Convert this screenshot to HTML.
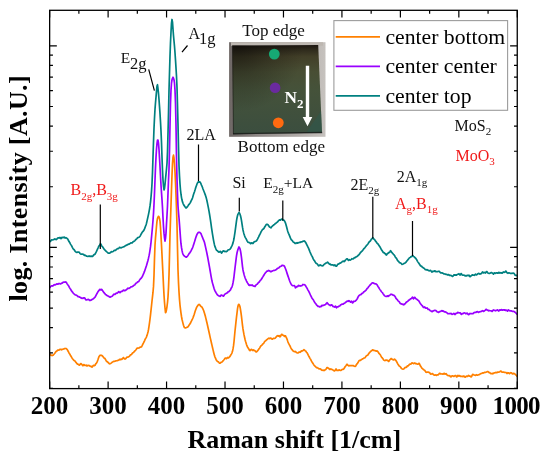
<!DOCTYPE html>
<html><head><meta charset="utf-8"><title>Raman spectra</title>
<style>
html,body{margin:0;padding:0;background:#fff;}
body{width:550px;height:461px;overflow:hidden;font-family:"Liberation Serif",serif;}
svg{display:block;font-family:"Liberation Serif",serif;}
.tl{font-weight:bold;font-size:25px;fill:#000;}
.ax{font-weight:bold;font-size:26px;fill:#000;}
.lb{font-size:16px;fill:#111;}
.rd{fill:#f01a1a;}
.lg{font-size:21.7px;fill:#000;}
</style></head><body>
<svg width="550" height="461" viewBox="0 0 550 461">
<defs>
<linearGradient id="ph" x1="0" y1="0" x2="0" y2="1">
<stop offset="0" stop-color="#1c1611"/><stop offset="0.05" stop-color="#2e2a1c"/><stop offset="0.13" stop-color="#423f28"/><stop offset="0.3" stop-color="#484e34"/><stop offset="0.5" stop-color="#45523a"/><stop offset="1" stop-color="#3b4e3f"/>
</linearGradient>
<radialGradient id="ph2" cx="0.05" cy="0" r="0.75">
<stop offset="0" stop-color="#0a0806" stop-opacity="0.6"/><stop offset="0.5" stop-color="#0a0806" stop-opacity="0.25"/><stop offset="1" stop-color="#0a0806" stop-opacity="0"/>
</radialGradient>
<linearGradient id="bd" x1="0" y1="0" x2="1" y2="0">
<stop offset="0" stop-color="#6e6765"/><stop offset="0.3" stop-color="#8e8886"/><stop offset="1" stop-color="#c6c2be"/>
</linearGradient>
<clipPath id="cp"><rect x="49.65" y="10.3" width="467.65" height="378.3"/></clipPath>
</defs>
<rect width="550" height="461" fill="#fff"/>
<!-- curves -->
<g fill="none" stroke-width="1.7" stroke-linejoin="round" stroke-linecap="round" clip-path="url(#cp)">
<polyline stroke="#ff8000" points="50.0,354.08 50.5,354.95 51.0,355.46 51.5,355.46 52.0,355.28 52.5,355.53 53.0,355.33 53.5,354.76 54.0,354.20 54.5,353.58 55.0,352.90 55.5,352.17 56.0,351.61 56.5,351.32 57.0,350.83 57.5,350.35 58.0,350.09 58.5,350.03 59.0,350.08 59.5,349.64 60.0,349.34 60.5,349.25 61.0,349.59 61.5,349.78 62.0,349.31 62.5,349.29 63.0,349.24 63.5,348.95 64.0,348.80 64.5,348.69 65.0,348.47 65.5,348.48 66.0,348.50 66.5,348.91 67.0,349.34 67.5,350.02 68.0,351.00 68.5,351.98 69.0,352.93 69.5,353.66 70.0,354.48 70.5,355.51 71.0,356.27 71.5,357.06 72.0,357.95 72.5,358.63 73.0,359.29 73.5,359.83 74.0,360.39 74.5,360.81 75.0,361.07 75.5,361.70 76.0,362.37 76.5,362.99 77.0,363.71 77.5,364.21 78.0,364.15 78.5,364.42 79.0,365.14 79.5,365.16 80.0,364.53 80.5,363.70 81.0,363.53 81.5,364.04 82.0,364.55 82.5,365.42 83.0,365.73 83.5,364.77 84.0,364.56 84.5,365.14 85.0,365.43 85.5,365.49 86.0,365.11 86.5,365.29 87.0,366.06 87.5,365.84 88.0,365.24 88.5,365.42 89.0,365.55 89.5,365.66 90.0,366.23 90.5,366.46 91.0,366.24 91.5,366.54 92.0,367.15 92.5,366.63 93.0,365.79 93.5,365.27 94.0,365.34 94.5,365.68 95.0,365.32 95.5,364.31 96.0,363.59 96.5,363.02 97.0,362.08 97.5,360.88 98.0,359.51 98.5,357.98 99.0,356.68 99.5,355.86 100.0,355.41 100.5,355.21 101.0,355.35 101.5,355.23 102.0,355.42 102.5,356.17 103.0,356.65 103.5,357.30 104.0,357.94 104.5,358.16 105.0,358.69 105.5,359.54 106.0,360.42 106.5,361.23 107.0,361.62 107.5,361.86 108.0,362.37 108.5,362.97 109.0,363.48 109.5,363.79 110.0,363.76 110.5,363.46 111.0,363.19 111.5,362.80 112.0,362.38 112.5,362.01 113.0,361.82 113.5,361.53 114.0,361.24 114.5,361.29 115.0,361.25 115.5,360.94 116.0,360.75 116.5,360.77 117.0,360.78 117.5,360.53 118.0,360.41 118.5,360.28 119.0,359.79 119.5,359.34 120.0,359.38 120.5,359.70 121.0,359.36 121.5,359.14 122.0,359.29 122.5,358.71 123.0,357.90 123.5,357.61 124.0,358.32 124.5,358.99 125.0,358.89 125.5,358.82 126.0,358.40 126.5,357.52 127.0,357.06 127.5,357.20 128.0,357.19 128.5,356.80 129.0,356.50 129.5,356.17 130.0,355.51 130.5,354.90 131.0,354.71 131.5,354.43 132.0,353.77 132.5,353.12 133.0,352.70 133.5,352.35 134.0,351.94 134.5,351.34 135.0,350.73 135.5,350.26 136.0,349.68 136.5,348.95 137.0,348.33 137.5,348.05 138.0,348.02 138.5,348.03 139.0,347.90 139.5,347.67 140.0,347.29 140.5,347.04 141.0,347.11 141.5,346.75 142.0,345.87 142.5,344.85 143.0,343.91 143.5,342.93 144.0,341.88 144.5,340.84 145.0,339.69 145.5,338.67 146.0,337.84 146.5,336.77 147.0,335.39 147.5,333.82 148.0,332.00 148.5,329.50 149.0,326.35 149.5,322.86 150.0,319.06 150.5,314.92 151.0,310.42 151.5,305.74 152.0,300.97 152.5,296.65 153.0,292.22 153.5,286.41 154.0,275.41 154.5,258.51 155.0,245.03 155.5,237.89 156.0,232.25 156.5,226.21 157.0,221.05 157.5,218.42 158.0,217.13 158.5,216.31 159.0,216.88 159.5,218.45 160.0,221.08 160.5,227.33 161.0,236.00 161.5,245.16 162.0,255.02 162.5,264.94 163.0,274.98 163.5,285.50 164.0,294.97 164.5,302.23 165.0,307.98 165.5,312.69 166.0,312.07 166.5,309.65 167.0,306.51 167.5,302.48 168.0,297.00 168.5,287.86 169.0,274.99 169.5,255.73 170.0,234.99 170.5,219.44 171.0,205.00 171.5,189.24 172.0,175.02 172.5,163.56 173.0,157.12 173.5,155.11 174.0,157.98 174.5,163.68 175.0,171.97 175.5,182.40 176.0,194.99 176.5,208.75 177.0,225.00 177.5,248.31 178.0,270.00 178.5,282.63 179.0,291.95 179.5,299.37 180.0,305.05 180.5,309.42 181.0,313.21 181.5,316.50 182.0,319.23 182.5,321.36 183.0,323.34 183.5,325.22 184.0,326.74 184.5,327.64 185.0,327.79 185.5,327.76 186.0,327.81 186.5,327.57 187.0,327.25 187.5,327.14 188.0,326.75 188.5,326.00 189.0,325.19 189.5,324.50 190.0,323.90 190.5,323.02 191.0,321.99 191.5,320.97 192.0,319.86 192.5,318.86 193.0,317.76 193.5,316.39 194.0,314.98 194.5,313.46 195.0,311.84 195.5,310.34 196.0,308.94 196.5,307.59 197.0,306.68 197.5,305.94 198.0,305.24 198.5,304.77 199.0,304.46 199.5,304.48 200.0,305.18 200.5,305.90 201.0,306.46 201.5,306.76 202.0,307.13 202.5,308.06 203.0,309.17 203.5,310.25 204.0,311.64 204.5,313.30 205.0,315.03 205.5,316.85 206.0,318.86 206.5,320.97 207.0,323.07 207.5,325.21 208.0,327.47 208.5,329.74 209.0,332.00 209.5,334.28 210.0,336.56 210.5,338.82 211.0,341.00 211.5,343.19 212.0,345.37 212.5,347.53 213.0,349.66 213.5,351.72 214.0,353.76 214.5,355.63 215.0,357.05 215.5,358.20 216.0,359.41 216.5,360.35 217.0,360.93 217.5,361.50 218.0,361.78 218.5,361.93 219.0,362.56 219.5,363.08 220.0,363.16 220.5,363.02 221.0,362.31 221.5,362.23 222.0,362.03 222.5,361.43 223.0,360.84 223.5,360.29 224.0,359.70 224.5,359.04 225.0,358.28 225.5,358.07 226.0,358.41 226.5,358.59 227.0,358.11 227.5,357.49 228.0,357.71 228.5,357.93 229.0,357.41 229.5,356.97 230.0,356.38 230.5,355.52 231.0,354.68 231.5,353.80 232.0,352.86 232.5,351.32 233.0,348.91 233.5,345.96 234.0,341.75 234.5,336.26 235.0,330.98 235.5,326.29 236.0,321.61 236.5,317.14 237.0,313.05 237.5,308.95 238.0,306.00 238.5,304.63 239.0,304.38 239.5,305.34 240.0,306.73 240.5,309.53 241.0,312.94 241.5,316.66 242.0,321.00 242.5,325.33 243.0,328.99 243.5,331.96 244.0,334.63 244.5,337.00 245.0,339.23 245.5,341.20 246.0,342.84 246.5,344.43 247.0,345.90 247.5,346.95 248.0,347.70 248.5,348.48 249.0,349.39 249.5,350.26 250.0,350.68 250.5,349.95 251.0,349.57 251.5,349.36 252.0,349.67 252.5,350.40 253.0,350.46 253.5,350.00 254.0,350.40 254.5,350.42 255.0,350.69 255.5,351.39 256.0,351.86 256.5,351.89 257.0,351.35 257.5,350.86 258.0,350.30 258.5,349.48 259.0,348.84 259.5,348.25 260.0,347.40 260.5,346.42 261.0,345.72 261.5,345.46 262.0,345.04 262.5,344.30 263.0,343.81 263.5,343.41 264.0,342.67 264.5,341.82 265.0,341.21 265.5,340.88 266.0,340.56 266.5,339.98 267.0,339.52 267.5,339.26 268.0,338.74 268.5,338.22 269.0,338.35 269.5,338.58 270.0,338.21 270.5,338.02 271.0,338.26 271.5,338.69 272.0,339.14 272.5,339.08 273.0,338.65 273.5,338.34 274.0,338.40 274.5,338.39 275.0,338.23 275.5,337.84 276.0,337.17 276.5,336.60 277.0,336.03 277.5,335.70 278.0,336.01 278.5,336.18 279.0,335.65 279.5,335.72 280.0,336.82 280.5,336.49 281.0,335.21 281.5,334.44 282.0,334.46 282.5,334.98 283.0,335.23 283.5,335.41 284.0,335.90 284.5,336.34 285.0,335.70 285.5,335.85 286.0,336.92 286.5,337.93 287.0,339.04 287.5,340.59 288.0,342.03 288.5,343.15 289.0,344.16 289.5,345.07 290.0,345.98 290.5,347.03 291.0,348.11 291.5,349.04 292.0,349.66 292.5,350.18 293.0,350.85 293.5,351.30 294.0,351.53 294.5,351.77 295.0,351.58 295.5,351.47 296.0,352.08 296.5,352.59 297.0,352.83 297.5,352.98 298.0,352.94 298.5,352.59 299.0,352.14 299.5,352.07 300.0,352.35 300.5,352.02 301.0,351.18 301.5,350.91 302.0,351.09 302.5,350.87 303.0,350.50 303.5,350.22 304.0,349.72 304.5,350.09 305.0,350.63 305.5,350.93 306.0,351.44 306.5,352.20 307.0,352.85 307.5,353.52 308.0,354.51 308.5,355.55 309.0,356.50 309.5,357.47 310.0,358.35 310.5,359.12 311.0,360.07 311.5,361.15 312.0,362.01 312.5,362.68 313.0,363.46 313.5,364.37 314.0,365.08 314.5,365.59 315.0,366.10 315.5,366.54 316.0,367.10 316.5,367.55 317.0,367.64 317.5,367.87 318.0,368.06 318.5,368.45 319.0,368.91 319.5,368.86 320.0,368.79 320.5,369.00 321.0,369.43 321.5,370.10 322.0,370.38 322.5,370.22 323.0,370.04 323.5,370.19 324.0,370.65 324.5,370.21 325.0,369.83 325.5,369.74 326.0,369.13 326.5,368.34 327.0,367.48 327.5,367.56 328.0,368.06 328.5,368.40 329.0,368.59 329.5,369.24 330.0,369.51 330.5,368.96 331.0,368.99 331.5,369.45 332.0,369.50 332.5,369.61 333.0,370.03 333.5,370.49 334.0,370.77 334.5,370.89 335.0,370.62 335.5,369.56 336.0,368.98 336.5,369.88 337.0,370.51 337.5,370.26 338.0,370.29 338.5,370.34 339.0,369.86 339.5,370.04 340.0,370.40 340.5,370.44 341.0,370.37 341.5,369.98 342.0,369.54 342.5,369.33 343.0,369.33 343.5,369.19 344.0,368.68 344.5,367.78 345.0,366.84 345.5,366.25 346.0,365.70 346.5,364.82 347.0,364.25 347.5,364.80 348.0,365.28 348.5,365.68 349.0,365.89 349.5,365.53 350.0,365.52 350.5,365.55 351.0,365.64 351.5,365.69 352.0,365.61 352.5,365.49 353.0,365.48 353.5,365.82 354.0,366.12 354.5,366.27 355.0,366.40 355.5,366.16 356.0,365.46 356.5,364.51 357.0,363.89 357.5,363.39 358.0,362.54 358.5,361.64 359.0,360.77 359.5,360.34 360.0,360.48 360.5,360.39 361.0,359.92 361.5,359.54 362.0,359.24 362.5,358.86 363.0,358.69 363.5,358.38 364.0,358.03 364.5,357.97 365.0,357.69 365.5,357.06 366.0,356.27 366.5,355.73 367.0,355.49 367.5,355.26 368.0,354.80 368.5,354.01 369.0,353.24 369.5,352.61 370.0,352.03 370.5,351.60 371.0,351.18 371.5,350.77 372.0,350.44 372.5,349.90 373.0,349.89 373.5,350.37 374.0,350.37 374.5,350.53 375.0,350.57 375.5,350.70 376.0,351.11 376.5,351.05 377.0,350.86 377.5,351.26 378.0,351.87 378.5,352.59 379.0,353.46 379.5,353.98 380.0,354.33 380.5,355.17 381.0,356.16 381.5,356.98 382.0,357.70 382.5,358.21 383.0,358.84 383.5,359.75 384.0,360.30 384.5,360.47 385.0,360.56 385.5,360.36 386.0,359.99 386.5,360.05 387.0,360.42 387.5,360.30 388.0,360.61 388.5,361.44 389.0,361.17 389.5,360.22 390.0,359.62 390.5,359.24 391.0,358.70 391.5,358.60 392.0,359.27 392.5,359.49 393.0,359.67 393.5,359.96 394.0,359.64 394.5,359.20 395.0,359.56 395.5,360.03 396.0,360.64 396.5,361.49 397.0,362.42 397.5,363.43 398.0,364.27 398.5,364.99 399.0,365.78 399.5,366.26 400.0,366.48 400.5,367.00 401.0,367.85 401.5,368.48 402.0,368.79 402.5,369.02 403.0,369.23 403.5,369.03 404.0,368.68 404.5,368.14 405.0,367.61 405.5,367.41 406.0,367.49 406.5,367.27 407.0,366.46 407.5,365.95 408.0,365.93 408.5,365.58 409.0,364.89 409.5,364.38 410.0,364.11 410.5,364.15 411.0,364.06 411.5,363.37 412.0,362.82 412.5,362.97 413.0,363.30 413.5,363.68 414.0,363.55 414.5,362.97 415.0,363.05 415.5,363.61 416.0,363.67 416.5,363.71 417.0,363.99 417.5,364.19 418.0,364.27 418.5,363.72 419.0,363.25 419.5,363.94 420.0,365.04 420.5,366.14 421.0,366.79 421.5,367.45 422.0,368.28 422.5,368.73 423.0,369.02 423.5,369.53 424.0,369.93 424.5,370.18 425.0,370.72 425.5,371.52 426.0,372.21 426.5,372.33 427.0,372.14 427.5,372.07 428.0,372.01 428.5,372.16 429.0,372.42 429.5,372.58 430.0,373.34 430.5,374.08 431.0,374.06 431.5,373.98 432.0,373.71 432.5,373.65 433.0,374.23 433.5,374.67 434.0,374.90 434.5,375.10 435.0,375.06 435.5,374.91 436.0,375.24 436.5,375.34 437.0,374.80 437.5,374.80 438.0,374.94 438.5,374.61 439.0,373.91 439.5,373.25 440.0,373.36 440.5,373.98 441.0,373.99 441.5,373.95 442.0,373.85 442.5,374.05 443.0,374.14 443.5,373.91 444.0,373.40 444.5,373.43 445.0,374.20 445.5,373.86 446.0,373.69 446.5,374.19 447.0,374.87 447.5,375.39 448.0,375.51 448.5,375.61 449.0,375.77 449.5,375.68 450.0,376.02 450.5,376.78 451.0,376.86 451.5,376.37 452.0,375.95 452.5,375.83 453.0,376.07 453.5,376.42 454.0,376.48 454.5,375.92 455.0,375.62 455.5,375.52 456.0,375.82 456.5,376.86 457.0,377.00 457.5,375.96 458.0,375.37 458.5,375.87 459.0,376.12 459.5,375.63 460.0,375.79 460.5,376.37 461.0,376.37 461.5,376.45 462.0,376.34 462.5,376.39 463.0,376.60 463.5,376.12 464.0,376.05 464.5,376.60 465.0,377.13 465.5,377.11 466.0,376.37 466.5,376.09 467.0,376.46 467.5,376.41 468.0,375.88 468.5,375.45 469.0,375.79 469.5,376.17 470.0,376.10 470.5,376.40 471.0,376.89 471.5,376.67 472.0,375.60 472.5,374.51 473.0,374.33 473.5,374.72 474.0,375.01 474.5,375.03 475.0,375.01 475.5,375.45 476.0,375.24 476.5,374.71 477.0,374.95 477.5,375.18 478.0,374.97 478.5,374.74 479.0,374.69 479.5,374.48 480.0,374.11 480.5,373.74 481.0,373.54 481.5,373.51 482.0,373.20 482.5,372.91 483.0,372.90 483.5,373.05 484.0,372.75 484.5,372.28 485.0,372.26 485.5,372.28 486.0,372.24 486.5,372.05 487.0,371.78 487.5,371.53 488.0,371.58 488.5,372.26 489.0,372.59 489.5,372.47 490.0,372.90 490.5,373.48 491.0,373.65 491.5,373.74 492.0,373.43 492.5,373.38 493.0,373.80 493.5,373.24 494.0,372.90 494.5,373.02 495.0,372.76 495.5,372.51 496.0,372.40 496.5,372.67 497.0,372.66 497.5,372.16 498.0,372.20 498.5,372.24 499.0,372.01 499.5,371.91 500.0,371.62 500.5,371.14 501.0,371.10 501.5,371.62 502.0,372.09 502.5,372.17 503.0,372.16 503.5,372.09 504.0,372.26 504.5,372.51 505.0,372.42 505.5,372.50 506.0,372.54 506.5,372.86 507.0,373.51 507.5,373.22 508.0,372.70 508.5,372.86 509.0,373.37 509.5,373.65 510.0,373.14 510.5,372.79 511.0,372.70 511.5,372.84 512.0,373.50 512.5,373.94 513.0,373.83 513.5,373.39 514.0,373.33 514.5,373.69 515.0,374.19 515.5,374.66 516.0,374.97 516.5,375.55 517.0,376.27"/>
<polyline stroke="#9900ff" points="50.0,287.34 50.5,286.75 51.0,286.24 51.5,285.74 52.0,285.80 52.5,286.06 53.0,285.79 53.5,285.30 54.0,284.79 54.5,284.71 55.0,284.97 55.5,284.79 56.0,284.39 56.5,284.06 57.0,283.90 57.5,284.25 58.0,284.19 58.5,283.56 59.0,283.55 59.5,283.63 60.0,283.56 60.5,283.99 61.0,283.82 61.5,283.18 62.0,283.24 62.5,283.03 63.0,282.34 63.5,282.20 64.0,282.13 64.5,282.06 65.0,282.15 65.5,281.91 66.0,282.02 66.5,282.66 67.0,283.60 67.5,284.44 68.0,285.03 68.5,285.68 69.0,286.59 69.5,287.61 70.0,288.43 70.5,289.12 71.0,289.99 71.5,290.87 72.0,291.48 72.5,292.13 73.0,292.79 73.5,293.40 74.0,293.85 74.5,294.17 75.0,294.79 75.5,295.00 76.0,295.04 76.5,295.33 77.0,295.56 77.5,296.18 78.0,296.61 78.5,296.52 79.0,296.80 79.5,297.19 80.0,297.21 80.5,297.42 81.0,298.00 81.5,298.29 82.0,298.09 82.5,298.28 83.0,298.30 83.5,297.82 84.0,297.85 84.5,297.83 85.0,298.34 85.5,299.49 86.0,299.90 86.5,299.84 87.0,299.70 87.5,299.60 88.0,299.47 88.5,299.43 89.0,299.71 89.5,300.24 90.0,300.58 90.5,300.33 91.0,300.07 91.5,299.91 92.0,299.50 92.5,299.18 93.0,299.04 93.5,298.63 94.0,298.09 94.5,297.66 95.0,297.18 95.5,296.38 96.0,295.36 96.5,294.38 97.0,293.50 97.5,292.59 98.0,291.65 98.5,290.94 99.0,290.51 99.5,289.81 100.0,289.27 100.5,289.79 101.0,290.08 101.5,289.36 102.0,289.64 102.5,290.40 103.0,291.28 103.5,292.11 104.0,292.78 104.5,293.18 105.0,293.84 105.5,294.57 106.0,294.80 106.5,295.10 107.0,295.54 107.5,295.80 108.0,296.06 108.5,296.37 109.0,296.55 109.5,296.89 110.0,297.23 110.5,296.97 111.0,296.65 111.5,296.47 112.0,296.20 112.5,295.82 113.0,295.28 113.5,294.50 114.0,294.17 114.5,294.26 115.0,294.35 115.5,293.94 116.0,293.21 116.5,293.11 117.0,293.28 117.5,293.04 118.0,292.51 118.5,291.77 119.0,291.59 119.5,292.38 120.0,292.66 120.5,292.04 121.0,291.54 121.5,291.42 122.0,291.47 122.5,291.13 123.0,290.46 123.5,290.09 124.0,290.30 124.5,290.77 125.0,290.65 125.5,290.18 126.0,290.02 126.5,289.72 127.0,289.22 127.5,288.69 128.0,288.20 128.5,288.33 129.0,288.49 129.5,287.95 130.0,287.70 130.5,287.50 131.0,286.91 131.5,286.74 132.0,286.59 132.5,286.40 133.0,286.18 133.5,285.65 134.0,285.25 134.5,285.03 135.0,284.54 135.5,283.86 136.0,283.27 136.5,282.91 137.0,282.62 137.5,282.07 138.0,281.79 138.5,281.65 139.0,280.99 139.5,280.12 140.0,279.38 140.5,278.87 141.0,278.41 141.5,277.68 142.0,276.98 142.5,276.21 143.0,275.02 143.5,273.82 144.0,272.69 144.5,271.44 145.0,270.03 145.5,268.55 146.0,267.07 146.5,265.50 147.0,263.72 147.5,261.95 148.0,260.21 148.5,258.19 149.0,255.93 149.5,253.33 150.0,250.23 150.5,246.71 151.0,242.52 151.5,237.45 152.0,231.99 152.5,226.48 153.0,220.51 153.5,213.41 154.0,204.18 154.5,192.89 155.0,179.99 155.5,167.37 156.0,157.26 156.5,149.30 157.0,143.37 157.5,140.06 158.0,140.10 158.5,143.24 159.0,149.34 159.5,157.60 160.0,166.56 160.5,176.00 161.0,184.97 161.5,192.61 162.0,199.76 162.5,207.77 163.0,217.79 163.5,226.45 164.0,233.16 164.5,237.86 165.0,241.21 165.5,238.45 166.0,233.27 166.5,223.78 167.0,215.31 167.5,206.01 168.0,193.12 168.5,180.29 169.0,168.85 169.5,150.12 170.0,125.39 170.5,103.12 171.0,90.16 171.5,83.05 172.0,79.79 172.5,78.32 173.0,77.23 173.5,78.16 174.0,79.77 174.5,83.10 175.0,90.20 175.5,103.03 176.0,124.81 176.5,157.36 177.0,178.68 177.5,194.09 178.0,205.96 178.5,212.46 179.0,217.98 179.5,224.42 180.0,230.96 180.5,238.14 181.0,243.97 181.5,247.49 182.0,250.42 182.5,252.66 183.0,254.12 183.5,255.03 184.0,255.71 184.5,256.17 185.0,256.40 185.5,256.72 186.0,257.18 186.5,257.07 187.0,256.68 187.5,256.07 188.0,255.38 188.5,254.59 189.0,253.76 189.5,253.14 190.0,252.57 190.5,251.84 191.0,250.93 191.5,249.97 192.0,248.98 192.5,247.86 193.0,246.48 193.5,244.92 194.0,243.40 194.5,241.85 195.0,240.16 195.5,238.45 196.0,236.96 196.5,235.59 197.0,234.35 197.5,233.51 198.0,232.84 198.5,232.26 199.0,232.27 199.5,232.23 200.0,232.64 200.5,233.05 201.0,233.68 201.5,234.94 202.0,236.21 202.5,237.41 203.0,238.70 203.5,239.92 204.0,241.07 204.5,242.55 205.0,244.58 205.5,246.85 206.0,249.10 206.5,251.40 207.0,253.79 207.5,256.29 208.0,258.89 208.5,261.65 209.0,264.46 209.5,267.22 210.0,270.02 210.5,272.92 211.0,275.84 211.5,278.59 212.0,281.05 212.5,283.12 213.0,284.84 213.5,286.55 214.0,288.17 214.5,289.63 215.0,290.87 215.5,291.78 216.0,292.65 216.5,293.47 217.0,294.18 217.5,294.90 218.0,295.37 218.5,295.66 219.0,295.85 219.5,295.98 220.0,296.38 220.5,296.23 221.0,295.17 221.5,295.13 222.0,295.34 222.5,295.63 223.0,295.98 223.5,296.07 224.0,295.51 224.5,294.49 225.0,293.96 225.5,293.83 226.0,293.51 226.5,293.12 227.0,292.97 227.5,292.67 228.0,291.89 228.5,291.65 229.0,291.62 229.5,290.85 230.0,290.32 230.5,289.80 231.0,288.73 231.5,287.72 232.0,286.80 232.5,285.27 233.0,282.88 233.5,280.05 234.0,276.51 234.5,272.20 235.0,267.98 235.5,263.93 236.0,259.79 236.5,255.97 237.0,253.01 237.5,250.88 238.0,249.28 238.5,248.19 239.0,246.92 239.5,247.71 240.0,248.90 240.5,250.98 241.0,253.96 241.5,257.68 242.0,262.18 242.5,266.56 243.0,269.97 243.5,272.32 244.0,274.24 244.5,275.97 245.0,277.56 245.5,278.85 246.0,279.93 246.5,281.02 247.0,282.03 247.5,282.87 248.0,283.65 248.5,284.52 249.0,285.20 249.5,285.40 250.0,284.95 250.5,285.28 251.0,285.48 251.5,285.19 252.0,284.90 252.5,285.14 253.0,285.89 253.5,286.06 254.0,285.99 254.5,286.32 255.0,286.55 255.5,285.86 256.0,285.08 256.5,284.47 257.0,284.29 257.5,283.84 258.0,283.04 258.5,282.59 259.0,282.28 259.5,281.64 260.0,280.82 260.5,280.22 261.0,279.78 261.5,279.11 262.0,278.22 262.5,277.41 263.0,276.63 263.5,275.80 264.0,274.96 264.5,274.12 265.0,273.36 265.5,272.79 266.0,272.21 266.5,271.52 267.0,271.15 267.5,271.09 268.0,270.91 268.5,270.46 269.0,270.64 269.5,270.97 270.0,271.00 270.5,271.66 271.0,271.73 271.5,271.35 272.0,271.17 272.5,270.85 273.0,270.74 273.5,270.57 274.0,270.39 274.5,270.43 275.0,270.29 275.5,270.08 276.0,269.76 276.5,269.27 277.0,268.78 277.5,268.41 278.0,268.12 278.5,267.95 279.0,267.66 279.5,267.01 280.0,266.54 280.5,266.43 281.0,266.29 281.5,265.86 282.0,265.41 282.5,265.26 283.0,265.55 283.5,265.65 284.0,265.63 284.5,266.31 285.0,267.53 285.5,268.76 286.0,270.01 286.5,271.57 287.0,273.12 287.5,274.62 288.0,276.12 288.5,277.57 289.0,279.01 289.5,280.46 290.0,281.77 290.5,282.88 291.0,283.90 291.5,284.75 292.0,285.29 292.5,285.63 293.0,285.76 293.5,285.73 294.0,285.65 294.5,285.68 295.0,286.59 295.5,287.83 296.0,287.44 296.5,286.63 297.0,286.63 297.5,286.70 298.0,285.87 298.5,285.48 299.0,285.94 299.5,285.79 300.0,285.70 300.5,286.04 301.0,285.87 301.5,285.77 302.0,285.65 302.5,284.90 303.0,284.47 303.5,284.64 304.0,284.75 304.5,284.70 305.0,284.95 305.5,285.66 306.0,286.54 306.5,287.33 307.0,288.17 307.5,289.10 308.0,290.06 308.5,290.93 309.0,291.87 309.5,292.91 310.0,294.01 310.5,295.16 311.0,296.11 311.5,297.11 312.0,298.17 312.5,298.84 313.0,299.37 313.5,300.15 314.0,301.14 314.5,302.02 315.0,302.77 315.5,303.41 316.0,304.03 316.5,304.83 317.0,305.34 317.5,305.76 318.0,306.39 318.5,306.29 319.0,306.46 319.5,306.98 320.0,306.70 320.5,306.41 321.0,306.66 321.5,306.20 322.0,305.27 322.5,305.59 323.0,305.61 323.5,305.27 324.0,305.14 324.5,305.00 325.0,304.70 325.5,304.43 326.0,304.04 326.5,303.25 327.0,302.71 327.5,303.13 328.0,303.89 328.5,304.51 329.0,304.71 329.5,304.92 330.0,305.42 330.5,305.53 331.0,305.10 331.5,304.87 332.0,305.00 332.5,305.58 333.0,306.49 333.5,306.63 334.0,306.52 334.5,307.01 335.0,306.56 335.5,306.14 336.0,307.17 336.5,307.78 337.0,307.09 337.5,306.83 338.0,306.90 338.5,306.51 339.0,306.18 339.5,306.03 340.0,305.68 340.5,305.12 341.0,304.85 341.5,304.59 342.0,304.11 342.5,304.11 343.0,304.18 343.5,303.83 344.0,303.41 344.5,303.21 345.0,302.89 345.5,302.33 346.0,302.13 346.5,301.83 347.0,301.17 347.5,301.00 348.0,301.33 348.5,301.17 349.0,300.66 349.5,300.93 350.0,301.52 350.5,302.12 351.0,301.96 351.5,301.22 352.0,301.63 352.5,302.84 353.0,302.69 353.5,301.66 354.0,301.22 354.5,301.37 355.0,301.27 355.5,300.85 356.0,300.29 356.5,299.78 357.0,299.18 357.5,298.29 358.0,297.21 358.5,296.22 359.0,295.68 359.5,295.28 360.0,294.76 360.5,294.73 361.0,294.59 361.5,293.84 362.0,293.40 362.5,293.30 363.0,292.87 363.5,292.19 364.0,291.77 364.5,291.43 365.0,291.02 365.5,290.61 366.0,290.16 366.5,289.45 367.0,288.66 367.5,288.25 368.0,287.71 368.5,286.90 369.0,286.28 369.5,285.76 370.0,285.14 370.5,284.58 371.0,284.14 371.5,283.55 372.0,283.01 372.5,282.82 373.0,282.85 373.5,283.14 374.0,283.45 374.5,283.54 375.0,283.79 375.5,283.82 376.0,283.85 376.5,284.20 377.0,284.75 377.5,285.62 378.0,286.47 378.5,287.14 379.0,287.98 379.5,288.87 380.0,289.62 380.5,290.33 381.0,291.05 381.5,291.72 382.0,292.25 382.5,292.75 383.0,293.59 383.5,294.37 384.0,295.00 384.5,295.65 385.0,295.96 385.5,296.25 386.0,296.45 386.5,296.47 387.0,296.10 387.5,295.91 388.0,296.48 388.5,296.29 389.0,295.60 389.5,295.45 390.0,295.12 390.5,294.44 391.0,294.22 391.5,294.33 392.0,294.39 392.5,294.64 393.0,295.10 393.5,295.15 394.0,295.38 394.5,295.97 395.0,296.41 395.5,297.27 396.0,298.32 396.5,298.85 397.0,299.33 397.5,299.97 398.0,300.73 398.5,301.27 399.0,301.49 399.5,302.16 400.0,303.10 400.5,303.62 401.0,303.71 401.5,303.82 402.0,304.21 402.5,304.33 403.0,304.18 403.5,304.78 404.0,304.76 404.5,304.15 405.0,303.80 405.5,303.29 406.0,302.50 406.5,302.09 407.0,301.85 407.5,301.50 408.0,301.03 408.5,300.39 409.0,300.02 409.5,299.91 410.0,299.41 410.5,298.82 411.0,298.74 411.5,298.55 412.0,297.72 412.5,297.19 413.0,297.95 413.5,298.91 414.0,298.03 414.5,297.28 415.0,297.53 415.5,298.40 416.0,298.83 416.5,299.02 417.0,299.46 417.5,299.95 418.0,300.16 418.5,300.57 419.0,301.28 419.5,302.06 420.0,302.94 420.5,303.67 421.0,304.28 421.5,304.98 422.0,305.50 422.5,305.96 423.0,306.79 423.5,307.43 424.0,307.35 424.5,306.94 425.0,307.18 425.5,307.92 426.0,308.20 426.5,308.12 427.0,307.93 427.5,308.42 428.0,309.35 428.5,309.49 429.0,309.38 429.5,309.82 430.0,310.44 430.5,310.71 431.0,310.93 431.5,311.27 432.0,311.71 432.5,311.51 433.0,310.91 433.5,310.82 434.0,310.69 434.5,310.32 435.0,310.30 435.5,310.55 436.0,310.66 436.5,311.12 437.0,311.71 437.5,312.04 438.0,312.15 438.5,312.37 439.0,312.15 439.5,311.81 440.0,311.48 440.5,311.30 441.0,311.31 441.5,310.73 442.0,310.60 442.5,311.06 443.0,310.94 443.5,311.00 444.0,311.62 444.5,311.98 445.0,311.85 445.5,311.85 446.0,312.22 446.5,312.59 447.0,312.83 447.5,313.33 448.0,313.76 448.5,313.65 449.0,313.52 449.5,313.56 450.0,313.58 450.5,313.48 451.0,313.38 451.5,313.93 452.0,314.30 452.5,314.18 453.0,313.85 453.5,313.50 454.0,313.46 454.5,314.33 455.0,314.60 455.5,313.73 456.0,313.31 456.5,313.35 457.0,313.21 457.5,312.50 458.0,312.26 458.5,312.75 459.0,312.83 459.5,312.88 460.0,312.83 460.5,313.10 461.0,313.98 461.5,314.33 462.0,313.85 462.5,313.59 463.0,313.69 463.5,313.25 464.0,312.95 464.5,312.97 465.0,312.98 465.5,313.48 466.0,313.83 466.5,313.56 467.0,313.10 467.5,313.38 468.0,314.28 468.5,314.72 469.0,314.50 469.5,313.84 470.0,313.42 470.5,313.64 471.0,313.65 471.5,313.64 472.0,313.72 472.5,313.65 473.0,313.68 473.5,313.16 474.0,312.71 474.5,312.62 475.0,312.34 475.5,312.45 476.0,312.38 476.5,311.89 477.0,311.67 477.5,311.67 478.0,312.07 478.5,312.42 479.0,312.09 479.5,311.87 480.0,311.74 480.5,311.49 481.0,311.53 481.5,311.39 482.0,310.94 482.5,310.66 483.0,310.92 483.5,311.37 484.0,311.24 484.5,310.69 485.0,310.33 485.5,309.95 486.0,309.34 486.5,309.40 487.0,310.08 487.5,309.99 488.0,310.30 488.5,310.77 489.0,310.60 489.5,310.58 490.0,310.76 490.5,310.76 491.0,310.81 491.5,311.05 492.0,311.47 492.5,311.16 493.0,310.20 493.5,309.94 494.0,310.23 494.5,310.34 495.0,310.59 495.5,310.84 496.0,310.50 496.5,310.33 497.0,310.13 497.5,309.83 498.0,310.36 498.5,311.04 499.0,310.86 499.5,310.10 500.0,309.91 500.5,310.14 501.0,309.76 501.5,309.64 502.0,310.14 502.5,310.24 503.0,309.91 503.5,309.85 504.0,310.13 504.5,309.89 505.0,309.76 505.5,310.45 506.0,310.48 506.5,310.13 507.0,310.68 507.5,311.10 508.0,310.42 508.5,309.94 509.0,310.56 509.5,310.80 510.0,310.66 510.5,311.01 511.0,310.87 511.5,310.84 512.0,311.22 512.5,311.39 513.0,311.45 513.5,311.41 514.0,311.53 514.5,311.83 515.0,312.23 515.5,312.68 516.0,313.04 516.5,313.51 517.0,314.14"/>
<polyline stroke="#008080" points="50.0,241.65 50.5,241.28 51.0,240.47 51.5,239.88 52.0,239.90 52.5,240.00 53.0,239.82 53.5,239.61 54.0,239.45 54.5,239.08 55.0,238.90 55.5,239.25 56.0,239.58 56.5,239.46 57.0,238.85 57.5,238.26 58.0,237.83 58.5,237.82 59.0,238.13 59.5,237.72 60.0,237.40 60.5,238.05 61.0,238.58 61.5,238.09 62.0,237.35 62.5,237.38 63.0,237.70 63.5,237.45 64.0,237.07 64.5,237.31 65.0,238.08 65.5,238.02 66.0,237.69 66.5,237.96 67.0,238.41 67.5,238.84 68.0,239.56 68.5,240.51 69.0,241.51 69.5,242.25 70.0,243.04 70.5,244.09 71.0,244.88 71.5,245.60 72.0,246.62 72.5,247.62 73.0,248.51 73.5,249.19 74.0,249.54 74.5,250.23 75.0,251.10 75.5,251.60 76.0,251.96 76.5,252.33 77.0,252.34 77.5,252.18 78.0,252.22 78.5,252.13 79.0,252.12 79.5,252.55 80.0,253.48 80.5,253.98 81.0,254.05 81.5,254.23 82.0,254.09 82.5,254.15 83.0,254.28 83.5,254.32 84.0,255.01 84.5,255.44 85.0,255.21 85.5,255.35 86.0,255.79 86.5,256.18 87.0,256.27 87.5,256.29 88.0,256.41 88.5,256.14 89.0,256.08 89.5,256.38 90.0,256.14 90.5,256.32 91.0,256.48 91.5,256.10 92.0,256.31 92.5,256.51 93.0,255.98 93.5,255.04 94.0,254.63 94.5,254.71 95.0,254.23 95.5,253.30 96.0,252.38 96.5,251.42 97.0,250.23 97.5,249.07 98.0,248.02 98.5,246.87 99.0,245.88 99.5,245.20 100.0,244.47 100.5,243.70 101.0,244.37 101.5,245.38 102.0,246.23 102.5,246.81 103.0,247.41 103.5,248.21 104.0,249.07 104.5,249.67 105.0,250.10 105.5,250.59 106.0,251.16 106.5,251.64 107.0,251.96 107.5,252.49 108.0,253.03 108.5,253.07 109.0,253.04 109.5,253.19 110.0,252.91 110.5,252.58 111.0,252.04 111.5,251.65 112.0,251.79 112.5,251.75 113.0,251.46 113.5,251.11 114.0,250.62 114.5,250.24 115.0,250.28 115.5,250.39 116.0,249.91 116.5,249.29 117.0,249.02 117.5,248.66 118.0,248.52 118.5,248.55 119.0,247.96 119.5,247.33 120.0,247.40 120.5,247.68 121.0,247.85 121.5,247.70 122.0,247.31 122.5,247.21 123.0,247.05 123.5,246.78 124.0,246.73 124.5,246.36 125.0,245.98 125.5,245.78 126.0,245.35 126.5,245.13 127.0,245.09 127.5,244.79 128.0,244.37 128.5,244.13 129.0,244.09 129.5,243.90 130.0,243.45 130.5,243.16 131.0,242.82 131.5,242.80 132.0,243.10 132.5,242.43 133.0,241.80 133.5,241.69 134.0,241.25 134.5,240.94 135.0,240.61 135.5,239.93 136.0,239.38 136.5,239.01 137.0,238.53 137.5,237.89 138.0,237.52 138.5,237.45 139.0,237.24 139.5,236.79 140.0,236.20 140.5,235.34 141.0,234.40 141.5,233.50 142.0,232.60 142.5,231.92 143.0,231.41 143.5,230.88 144.0,230.06 144.5,228.93 145.0,227.65 145.5,226.32 146.0,224.94 146.5,223.26 147.0,221.15 147.5,218.88 148.0,216.63 148.5,214.31 149.0,211.80 149.5,209.08 150.0,205.98 150.5,202.09 151.0,197.23 151.5,191.36 152.0,183.80 152.5,172.20 153.0,157.09 153.5,141.92 154.0,128.23 154.5,118.07 155.0,109.29 155.5,102.70 156.0,97.08 156.5,91.21 157.0,85.96 157.5,84.74 158.0,88.86 158.5,93.71 159.0,99.55 159.5,106.38 160.0,113.63 160.5,121.68 161.0,130.94 161.5,142.40 162.0,157.30 162.5,170.28 163.0,179.96 163.5,186.11 164.0,189.86 164.5,188.39 165.0,184.37 165.5,179.04 166.0,174.17 166.5,168.96 167.0,163.25 167.5,151.92 168.0,133.00 168.5,113.44 169.0,90.60 169.5,72.99 170.0,56.03 170.5,42.54 171.0,32.04 171.5,23.17 172.0,19.48 172.5,22.08 173.0,29.13 173.5,35.67 174.0,41.02 174.5,46.39 175.0,52.70 175.5,59.98 176.0,67.98 176.5,76.27 177.0,87.41 177.5,104.99 178.0,124.59 178.5,147.39 179.0,165.60 179.5,176.03 180.0,184.07 180.5,190.03 181.0,194.25 181.5,197.61 182.0,200.10 182.5,201.90 183.0,203.29 183.5,204.53 184.0,205.39 184.5,206.03 185.0,206.77 185.5,207.34 186.0,208.04 186.5,207.76 187.0,207.17 187.5,206.63 188.0,205.88 188.5,205.01 189.0,204.41 189.5,203.85 190.0,203.11 190.5,202.26 191.0,201.23 191.5,200.18 192.0,199.26 192.5,197.97 193.0,196.25 193.5,194.56 194.0,193.08 194.5,191.68 195.0,190.10 195.5,188.37 196.0,186.84 196.5,185.42 197.0,183.99 197.5,182.91 198.0,182.21 198.5,181.64 199.0,182.03 199.5,181.89 200.0,182.09 200.5,182.74 201.0,183.83 201.5,185.09 202.0,186.24 202.5,187.50 203.0,188.94 203.5,190.23 204.0,191.47 204.5,192.81 205.0,194.09 205.5,195.41 206.0,196.95 206.5,198.86 207.0,201.03 207.5,203.39 208.0,205.90 208.5,208.44 209.0,211.11 209.5,213.99 210.0,217.07 210.5,220.39 211.0,223.99 211.5,227.61 212.0,230.91 212.5,234.06 213.0,237.20 213.5,240.04 214.0,242.58 214.5,244.92 215.0,246.65 215.5,247.81 216.0,249.08 216.5,250.18 217.0,250.50 217.5,250.73 218.0,251.38 218.5,251.96 219.0,252.10 219.5,251.90 220.0,251.52 220.5,251.38 221.0,252.32 221.5,253.17 222.0,252.56 222.5,251.66 223.0,251.11 223.5,250.76 224.0,251.28 224.5,251.53 225.0,251.28 225.5,251.46 226.0,251.63 226.5,251.55 227.0,251.25 227.5,250.63 228.0,249.95 228.5,249.74 229.0,249.75 229.5,249.52 230.0,249.16 230.5,248.53 231.0,247.55 231.5,246.59 232.0,245.60 232.5,244.38 233.0,242.86 233.5,241.02 234.0,238.53 234.5,235.36 235.0,232.04 235.5,228.49 236.0,224.59 236.5,220.89 237.0,217.98 237.5,215.69 238.0,214.02 238.5,213.42 239.0,212.54 239.5,213.08 240.0,214.24 240.5,215.82 241.0,217.90 241.5,220.61 242.0,223.88 242.5,227.16 243.0,229.96 243.5,232.14 244.0,233.97 244.5,235.53 245.0,236.88 245.5,237.87 246.0,238.60 246.5,239.54 247.0,240.56 247.5,241.48 248.0,242.17 248.5,242.42 249.0,242.51 249.5,242.62 250.0,243.00 250.5,243.63 251.0,243.45 251.5,242.83 252.0,242.88 252.5,243.39 253.0,243.45 253.5,242.76 254.0,242.05 254.5,241.72 255.0,241.48 255.5,241.29 256.0,241.21 256.5,240.77 257.0,239.99 257.5,239.05 258.0,238.04 258.5,237.06 259.0,236.01 259.5,235.04 260.0,234.15 260.5,233.04 261.0,231.94 261.5,231.16 262.0,230.36 262.5,229.55 263.0,229.12 263.5,228.91 264.0,228.28 264.5,227.27 265.0,226.44 265.5,225.69 266.0,224.88 266.5,224.42 267.0,224.41 267.5,224.43 268.0,224.72 268.5,225.46 269.0,226.34 269.5,226.99 270.0,227.25 270.5,227.38 271.0,227.91 271.5,227.11 272.0,226.35 272.5,225.97 273.0,225.52 273.5,225.06 274.0,224.77 274.5,224.48 275.0,223.96 275.5,223.47 276.0,223.21 276.5,222.71 277.0,222.26 277.5,221.98 278.0,221.38 278.5,220.76 279.0,220.25 279.5,219.74 280.0,219.90 280.5,220.19 281.0,219.69 281.5,219.17 282.0,218.93 282.5,219.41 283.0,220.21 283.5,220.11 284.0,220.33 284.5,221.03 285.0,221.86 285.5,223.07 286.0,224.75 286.5,226.57 287.0,228.44 287.5,230.39 288.0,232.06 288.5,233.32 289.0,234.46 289.5,235.64 290.0,236.87 290.5,238.13 291.0,239.18 291.5,239.91 292.0,240.34 292.5,240.82 293.0,241.73 293.5,242.27 294.0,242.35 294.5,242.86 295.0,243.29 295.5,243.17 296.0,243.42 296.5,242.91 297.0,242.63 297.5,243.21 298.0,243.02 298.5,242.66 299.0,242.44 299.5,242.29 300.0,242.55 300.5,242.31 301.0,241.93 301.5,241.79 302.0,241.81 302.5,241.62 303.0,241.22 303.5,241.14 304.0,240.91 304.5,241.03 305.0,241.62 305.5,242.23 306.0,243.06 306.5,244.11 307.0,245.11 307.5,246.18 308.0,247.23 308.5,248.20 309.0,249.33 309.5,250.67 310.0,251.99 310.5,253.11 311.0,254.23 311.5,255.34 312.0,256.18 312.5,257.11 313.0,258.38 313.5,259.51 314.0,260.14 314.5,260.73 315.0,261.65 315.5,262.56 316.0,263.18 316.5,263.45 317.0,263.71 317.5,264.26 318.0,264.92 318.5,265.68 319.0,265.85 319.5,265.14 320.0,264.88 320.5,265.13 321.0,265.36 321.5,265.68 322.0,265.76 322.5,265.80 323.0,265.76 323.5,265.13 324.0,264.42 324.5,264.12 325.0,263.84 325.5,263.33 326.0,262.97 326.5,262.91 327.0,262.62 327.5,262.17 328.0,262.55 328.5,263.04 329.0,263.69 329.5,264.26 330.0,264.02 330.5,264.34 331.0,264.98 331.5,264.88 332.0,264.89 332.5,264.94 333.0,264.83 333.5,265.36 334.0,265.64 334.5,265.05 335.0,264.92 335.5,265.57 336.0,266.26 336.5,266.13 337.0,265.46 337.5,264.66 338.0,264.20 338.5,264.10 339.0,263.79 339.5,263.28 340.0,263.13 340.5,263.13 341.0,262.79 341.5,262.26 342.0,261.87 342.5,261.42 343.0,261.12 343.5,261.19 344.0,261.55 344.5,261.49 345.0,260.63 345.5,260.00 346.0,259.52 346.5,258.96 347.0,258.75 347.5,259.08 348.0,259.81 348.5,260.34 349.0,259.95 349.5,259.71 350.0,260.12 350.5,259.93 351.0,259.60 351.5,259.20 352.0,258.73 352.5,258.87 353.0,258.98 353.5,258.61 354.0,258.07 354.5,257.72 355.0,257.68 355.5,257.45 356.0,256.96 356.5,256.60 357.0,256.44 357.5,256.08 358.0,255.50 358.5,255.04 359.0,254.69 359.5,254.14 360.0,253.34 360.5,252.59 361.0,252.01 361.5,251.57 362.0,251.18 362.5,250.62 363.0,249.89 363.5,249.20 364.0,248.66 364.5,248.22 365.0,247.59 365.5,246.86 366.0,246.16 366.5,245.47 367.0,245.00 367.5,244.60 368.0,243.88 368.5,242.96 369.0,242.18 369.5,241.64 370.0,241.35 370.5,240.78 371.0,239.81 371.5,239.10 372.0,238.69 372.5,238.19 373.0,237.78 373.5,238.68 374.0,239.22 374.5,239.48 375.0,240.19 375.5,241.06 376.0,241.61 376.5,242.22 377.0,243.04 377.5,243.52 378.0,243.99 378.5,244.71 379.0,245.42 379.5,246.17 380.0,246.94 380.5,247.82 381.0,248.78 381.5,249.77 382.0,250.62 382.5,251.31 383.0,252.11 383.5,252.68 384.0,252.72 384.5,253.07 385.0,253.62 385.5,253.85 386.0,254.81 386.5,255.05 387.0,254.13 387.5,253.46 388.0,253.41 388.5,252.94 389.0,252.36 389.5,252.34 390.0,251.76 390.5,250.75 391.0,251.09 391.5,252.02 392.0,252.61 392.5,253.19 393.0,253.77 393.5,254.35 394.0,254.82 394.5,255.43 395.0,256.46 395.5,257.39 396.0,257.88 396.5,258.38 397.0,259.37 397.5,260.44 398.0,260.98 398.5,261.34 399.0,261.98 399.5,262.61 400.0,262.84 400.5,262.88 401.0,263.15 401.5,263.79 402.0,264.40 402.5,264.24 403.0,264.09 403.5,263.82 404.0,263.49 404.5,263.22 405.0,262.96 405.5,262.71 406.0,262.14 406.5,261.44 407.0,260.83 407.5,260.25 408.0,259.69 408.5,259.12 409.0,258.39 409.5,257.67 410.0,257.46 410.5,257.17 411.0,256.65 411.5,256.65 412.0,256.45 412.5,255.57 413.0,255.69 413.5,256.35 414.0,256.69 414.5,257.12 415.0,257.74 415.5,258.16 416.0,258.67 416.5,259.43 417.0,260.39 417.5,261.33 418.0,262.13 418.5,262.84 419.0,263.58 419.5,264.29 420.0,265.06 420.5,265.88 421.0,266.09 421.5,266.01 422.0,266.66 422.5,267.41 423.0,267.52 423.5,267.85 424.0,268.31 424.5,268.62 425.0,269.36 425.5,269.75 426.0,269.67 426.5,269.82 427.0,269.72 427.5,269.76 428.0,270.31 428.5,270.56 429.0,270.69 429.5,270.80 430.0,270.50 430.5,270.40 431.0,270.88 431.5,271.62 432.0,272.07 432.5,271.75 433.0,271.17 433.5,271.45 434.0,271.39 434.5,270.73 435.0,270.80 435.5,271.47 436.0,271.74 436.5,271.60 437.0,271.60 437.5,271.59 438.0,271.50 438.5,271.32 439.0,271.23 439.5,271.48 440.0,272.14 440.5,272.83 441.0,272.88 441.5,272.78 442.0,272.91 442.5,273.07 443.0,273.34 443.5,273.65 444.0,273.89 444.5,273.98 445.0,273.96 445.5,274.31 446.0,274.49 446.5,274.32 447.0,274.60 447.5,274.92 448.0,274.87 448.5,274.64 449.0,274.81 449.5,275.39 450.0,275.30 450.5,275.30 451.0,275.57 451.5,275.55 452.0,276.12 452.5,276.44 453.0,276.11 453.5,275.55 454.0,274.83 454.5,274.79 455.0,275.25 455.5,275.02 456.0,274.92 456.5,275.15 457.0,274.69 457.5,274.32 458.0,274.31 458.5,274.09 459.0,273.74 459.5,274.25 460.0,275.02 460.5,274.60 461.0,273.54 461.5,273.78 462.0,274.78 462.5,275.08 463.0,275.24 463.5,275.22 464.0,274.99 464.5,275.47 465.0,275.79 465.5,275.70 466.0,275.82 466.5,275.79 467.0,275.35 467.5,275.27 468.0,275.69 468.5,275.37 469.0,275.16 469.5,276.04 470.0,276.65 470.5,276.40 471.0,275.86 471.5,275.48 472.0,275.06 472.5,274.85 473.0,275.14 473.5,275.16 474.0,275.28 474.5,275.35 475.0,274.57 475.5,274.19 476.0,274.64 476.5,274.93 477.0,274.57 477.5,274.05 478.0,273.71 478.5,273.41 479.0,273.49 479.5,273.94 480.0,274.09 480.5,273.72 481.0,273.62 481.5,273.70 482.0,272.73 482.5,271.92 483.0,272.33 483.5,272.80 484.0,272.69 484.5,272.35 485.0,272.83 485.5,273.13 486.0,272.23 486.5,271.51 487.0,271.58 487.5,272.40 488.0,273.10 488.5,273.25 489.0,273.40 489.5,273.41 490.0,273.24 490.5,273.04 491.0,272.62 491.5,272.61 492.0,272.90 492.5,273.00 493.0,273.60 493.5,274.07 494.0,273.51 494.5,272.75 495.0,272.95 495.5,273.37 496.0,273.04 496.5,272.85 497.0,272.92 497.5,273.15 498.0,273.22 498.5,272.54 499.0,272.36 499.5,272.96 500.0,273.05 500.5,272.79 501.0,272.69 501.5,272.90 502.0,273.20 502.5,272.95 503.0,272.24 503.5,271.96 504.0,272.18 504.5,272.32 505.0,272.15 505.5,271.31 506.0,271.04 506.5,272.00 507.0,272.71 507.5,272.99 508.0,273.29 508.5,273.05 509.0,272.80 509.5,272.97 510.0,273.18 510.5,273.39 511.0,273.42 511.5,273.40 512.0,273.46 512.5,273.25 513.0,273.13 513.5,273.19 514.0,273.34 514.5,274.11 515.0,275.00 515.5,275.33 516.0,275.25 516.5,275.23 517.0,275.63"/>
</g>
<!-- annotation lines -->
<path d="M148.7 69.3L154.4 90.6M187.5 45.5L182 52.2M198.5 144.5V181M239.3 197.8V211.5M282.8 200.5V220.5M372.8 196.7V238.6M412.5 221V256M100.3 204.4V249" stroke="#000" stroke-width="1.2" fill="none"/>
<!-- frame and ticks -->
<rect x="49.65" y="10.3" width="467.6" height="378.3" fill="none" stroke="#000" stroke-width="1.3"/>
<path d="M49.65 388.6v-7.2M49.65 10.3v7.2M78.88 388.6v-3.4M78.88 10.3v3.4M108.11 388.6v-7.2M108.11 10.3v7.2M137.33 388.6v-3.4M137.33 10.3v3.4M166.56 388.6v-7.2M166.56 10.3v7.2M195.79 388.6v-3.4M195.79 10.3v3.4M225.02 388.6v-7.2M225.02 10.3v7.2M254.25 388.6v-3.4M254.25 10.3v3.4M283.47 388.6v-7.2M283.47 10.3v7.2M312.70 388.6v-3.4M312.70 10.3v3.4M341.93 388.6v-7.2M341.93 10.3v7.2M371.16 388.6v-3.4M371.16 10.3v3.4M400.39 388.6v-7.2M400.39 10.3v7.2M429.62 388.6v-3.4M429.62 10.3v3.4M458.84 388.6v-7.2M458.84 10.3v7.2M488.07 388.6v-3.4M488.07 10.3v3.4M517.30 388.6v-7.2M517.30 10.3v7.2M49.65 45.80h7.2M517.3 45.80h-7.2M49.65 186.75h3.3M517.3 186.75h-3.3M49.65 151.24h3.3M517.3 151.24h-3.3M49.65 126.04h3.3M517.3 126.04h-3.3M49.65 106.50h3.3M517.3 106.50h-3.3M49.65 90.54h3.3M517.3 90.54h-3.3M49.65 77.04h3.3M517.3 77.04h-3.3M49.65 65.34h3.3M517.3 65.34h-3.3M49.65 55.03h3.3M517.3 55.03h-3.3M49.65 247.45h7.2M517.3 247.45h-7.2M49.65 388.40h3.3M517.3 388.40h-3.3M49.65 352.89h3.3M517.3 352.89h-3.3M49.65 327.69h3.3M517.3 327.69h-3.3M49.65 308.15h3.3M517.3 308.15h-3.3M49.65 292.19h3.3M517.3 292.19h-3.3M49.65 278.69h3.3M517.3 278.69h-3.3M49.65 266.99h3.3M517.3 266.99h-3.3M49.65 256.68h3.3M517.3 256.68h-3.3" stroke="#000" stroke-width="1.2" fill="none"/>
<g class="tl"><text x="49.6" y="413.6" text-anchor="middle">200</text><text x="108.1" y="413.6" text-anchor="middle">300</text><text x="166.6" y="413.6" text-anchor="middle">400</text><text x="225.0" y="413.6" text-anchor="middle">500</text><text x="283.5" y="413.6" text-anchor="middle">600</text><text x="341.9" y="413.6" text-anchor="middle">700</text><text x="400.4" y="413.6" text-anchor="middle">800</text><text x="458.8" y="413.6" text-anchor="middle">900</text><text x="516.2" y="413.6" text-anchor="middle" letter-spacing="-0.7">1000</text></g>
<text class="ax" x="294.3" y="448.4" text-anchor="middle">Raman shift [1/cm]</text>
<text class="ax" transform="translate(26.8 188.3) rotate(-90)" text-anchor="middle" style="font-size:26px;letter-spacing:0.36px">log. Intensity [A.U.]</text>
<!-- inset photo -->
<g>
<rect x="229.1" y="42.2" width="96.4" height="94.6" fill="url(#bd)"/>
<rect x="231" y="42.2" width="92" height="3.6" fill="#bdb7b1"/>
<polygon points="232.4,45.6 318.2,45 322,132.7 233.2,134.2" fill="url(#ph)"/>
<polygon points="232.4,45.6 318.2,45 322,132.7 233.2,134.2" fill="url(#ph2)"/>
<polygon points="321,111 322,132.7 306,133" fill="#2d5a4c" opacity="0.55"/>
<path d="M233 133.700L322.200 132.500" stroke="#181a18" stroke-width="1.4" opacity="0.8"/>
<path d="M232.600 45.600L233.400 134" stroke="#1a1816" stroke-width="1" opacity="0.6"/>
<circle cx="274.3" cy="54.1" r="5.4" fill="#16a874"/>
<circle cx="275.1" cy="87.700" r="5.3" fill="#6a2a9e"/>
<circle cx="278.3" cy="122.800" r="5.4" fill="#ff6a10"/>
<path d="M305.8 65.7h3.4v51.2h3.1l-4.800 9.3l-4.800-9.300h3.100z" fill="#fff"/>
<text transform="translate(284.5 103.3) scale(1.1 1)" font-size="15.7" font-weight="bold" fill="#fff">N<tspan font-size="11.8" dy="4.4">2</tspan></text>
</g>
<g class="lb">
<text x="242.3" y="36" font-size="17">Top edge</text>
<text x="237.6" y="152.3" font-size="17">Bottom edge</text>
<text x="120.8" y="62.5" font-size="15.5">E<tspan font-size="16.5" dx="-0.3" dy="6.3">2g</tspan></text>
<text x="188.6" y="39.4" font-size="16">A<tspan font-size="16.5" dx="-1.2" dy="4.600">1g</tspan></text>
<text x="186.4" y="139.6">2LA</text>
<text x="232.4" y="188.3">Si</text>
<text x="263.2" y="188.3" font-size="15.6">E<tspan font-size="11" dy="4.5">2g</tspan><tspan dy="-4.5">+LA</tspan></text>
<text x="350.5" y="189.6">2E<tspan font-size="11" dy="4.5">2g</tspan></text>
<text x="396.8" y="181.7">2A<tspan font-size="11" dy="4.5">1g</tspan></text>
<text x="454.5" y="130.6">MoS<tspan font-size="11" dy="4.3">2</tspan></text>
<text class="rd" x="455.5" y="160.6">MoO<tspan font-size="11" dy="4.3">3</tspan></text>
<text class="rd" x="394.900" y="208.7">A<tspan font-size="11" dy="4.5">g</tspan><tspan dy="-4.5">,B</tspan><tspan font-size="11" dy="4.5">1g</tspan></text>
<text class="rd" x="70.5" y="195.3">B<tspan font-size="11" dy="4.5">2g</tspan><tspan dy="-4.5">,B</tspan><tspan font-size="11" dy="4.5">3g</tspan></text>
</g>
<!-- legend -->
<rect x="333.9" y="20.6" width="173.7" height="89.7" fill="#fff" stroke="#9c9c9c" stroke-width="1.1"/>
<path d="M335.7 36.9H380" stroke="#ff8000" stroke-width="1.7"/>
<path d="M335.7 66.4H380" stroke="#9900ff" stroke-width="1.7"/>
<path d="M335.7 95.8H380" stroke="#008080" stroke-width="1.7"/>
<g class="lg">
<text x="385.4" y="44.1">center bottom</text>
<text x="385.4" y="73.4">center center</text>
<text x="385.4" y="102.8">center top</text>
</g>
</svg>
</body></html>
